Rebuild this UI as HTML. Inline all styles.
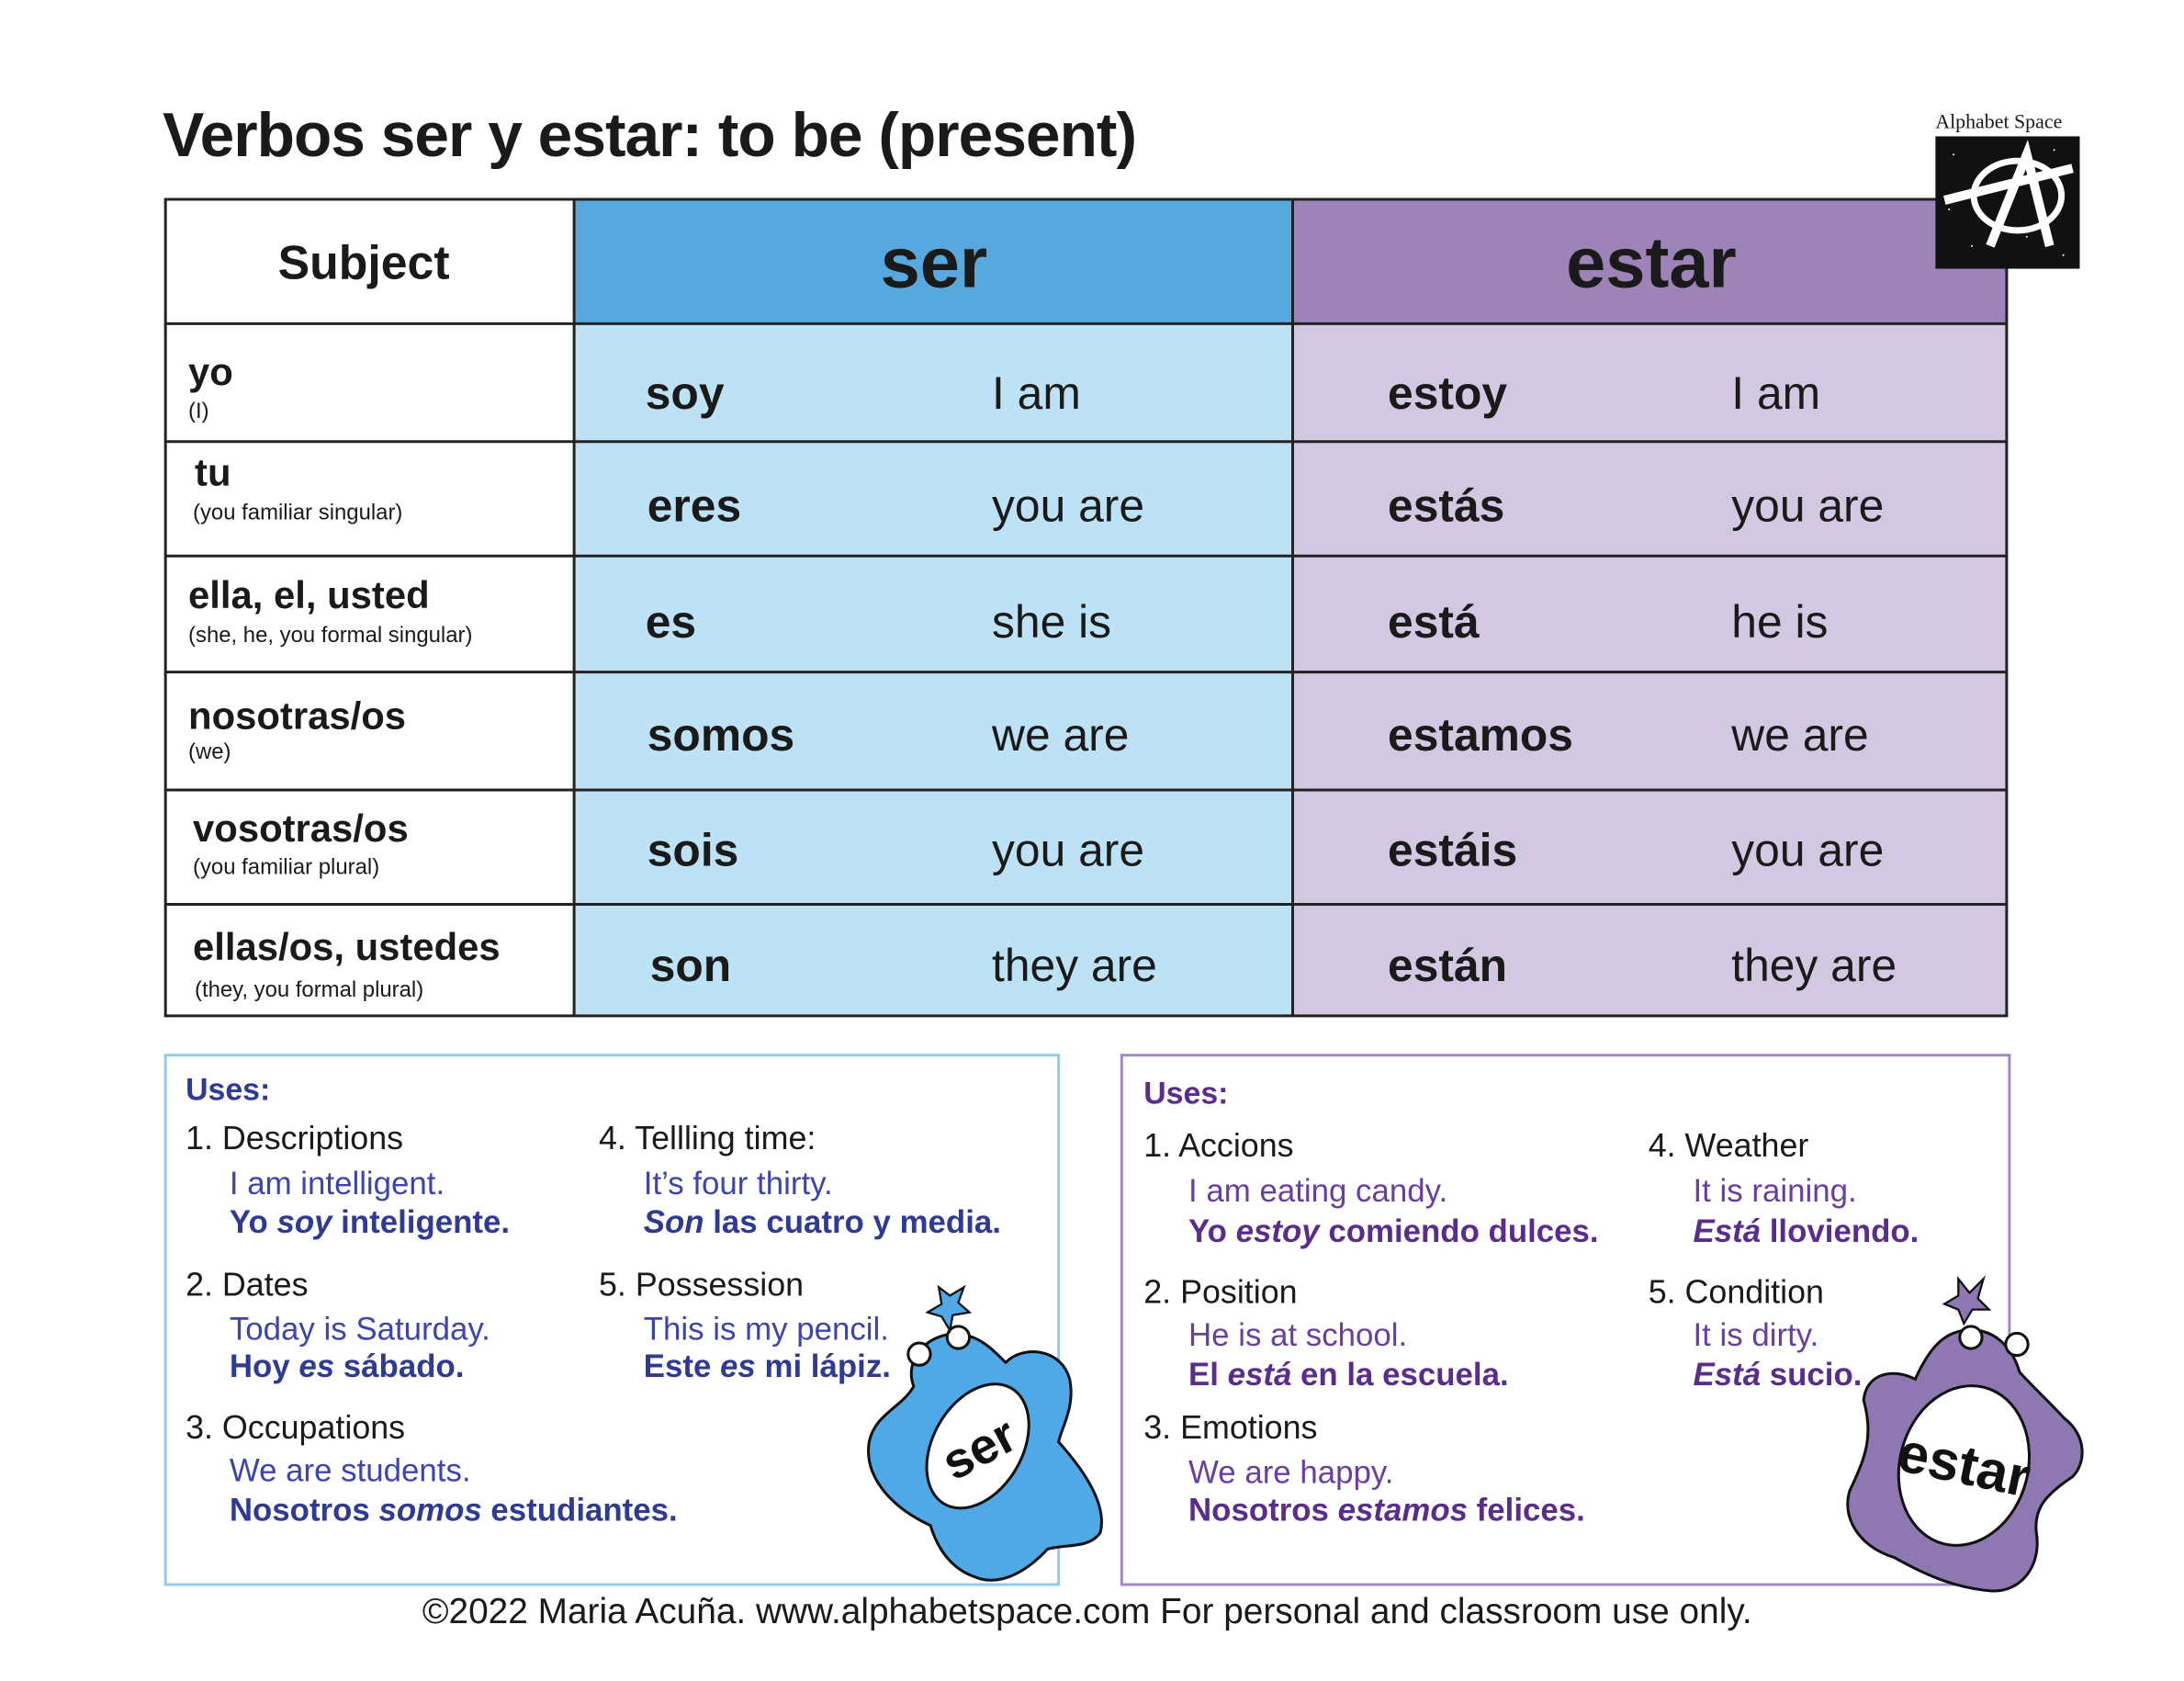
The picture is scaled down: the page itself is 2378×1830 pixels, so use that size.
<!DOCTYPE html>
<html><head><meta charset="utf-8"><style>
*{margin:0;padding:0;box-sizing:border-box}
body{width:2378px;height:1830px;background:#fff;position:relative;overflow:hidden;font-family:"Liberation Sans",sans-serif;color:#1a1a1a}
#c{position:absolute;left:0;top:0;width:2378px;height:1830px;transform:scale(0.9954);transform-origin:0 0}
.t{position:absolute;line-height:1;white-space:nowrap}
.b{font-weight:bold}
.bl{color:#2e3a94}.pu{color:#5a2d8c}
.bll{color:#3d44b0}.pul{color:#6a3da0}
</style></head><body>
<div id="c">
<div class="t b" style="left:178px;top:114px;font-size:68px;letter-spacing:-1px">Verbos ser y estar: to be (present)</div>
<div style="position:absolute;left:628px;top:218px;width:786px;height:136px;background:#56a8de"></div>
<div style="position:absolute;left:1414px;top:218px;width:781px;height:136px;background:#9e83b9"></div>
<div style="position:absolute;left:628px;top:354px;width:786px;height:757px;background:#bde2f5"></div>
<div style="position:absolute;left:1414px;top:354px;width:781px;height:757px;background:#d2c8e2"></div>
<svg style="position:absolute;left:0;top:0" width="2378" height="1830">
<g stroke="#222" stroke-width="3" fill="none">
<rect x="181" y="218" width="2014" height="893"/>
<line x1="628" y1="218" x2="628" y2="1111"/><line x1="1414" y1="218" x2="1414" y2="1111"/>
<line x1="181" y1="354" x2="2195" y2="354"/><line x1="181" y1="483" x2="2195" y2="483"/>
<line x1="181" y1="608" x2="2195" y2="608"/><line x1="181" y1="735" x2="2195" y2="735"/>
<line x1="181" y1="864" x2="2195" y2="864"/><line x1="181" y1="989" x2="2195" y2="989"/>
</g>
<rect x="181" y="1154" width="977" height="579" fill="none" stroke="#8ecdf0" stroke-width="3"/>
<rect x="1227" y="1154" width="971" height="579" fill="none" stroke="#a58ac2" stroke-width="3"/>
</svg>
<div class="t" style="left:2117px;top:122px;font-size:22px;font-family:'Liberation Serif',serif">Alphabet Space</div>
<svg style="position:absolute;left:2117px;top:149px" width="158" height="145" viewBox="0 0 158 145">
<rect width="158" height="145" fill="#111"/>
<g fill="#fff"><circle cx="20" cy="20" r="1"/><circle cx="130" cy="15" r="1"/><circle cx="40" cy="120" r="1"/><circle cx="140" cy="130" r="1"/><circle cx="100" cy="110" r="1"/><circle cx="15" cy="80" r="1"/></g>
<ellipse cx="90" cy="65" rx="48" ry="38" fill="none" stroke="#fff" stroke-width="7"/>
<path d="M10 70 L150 35 M60 120 L100 20 L125 120" fill="none" stroke="#fff" stroke-width="10"/>
</svg>
<div class="t b" style="left:304px;top:262px;font-size:52px">Subject</div>
<div class="t b" style="left:963px;top:248px;font-size:78px">ser</div>
<div class="t b" style="left:1713px;top:248px;font-size:78px">estar</div>

<div class="t b" style="left:206px;top:386px;font-size:42px">yo</div>
<div class="t" style="left:206px;top:438px;font-size:24px">(I)</div>
<div class="t b" style="left:213px;top:496px;font-size:42px">tu</div>
<div class="t" style="left:211px;top:549px;font-size:24px">(you familiar singular)</div>
<div class="t b" style="left:206px;top:630px;font-size:42px">ella, el, usted</div>
<div class="t" style="left:206px;top:683px;font-size:24px">(she, he, you formal singular)</div>
<div class="t b" style="left:206px;top:762px;font-size:42px">nosotras/os</div>
<div class="t" style="left:206px;top:811px;font-size:24px">(we)</div>
<div class="t b" style="left:211px;top:885px;font-size:42px">vosotras/os</div>
<div class="t" style="left:211px;top:937px;font-size:24px">(you familiar plural)</div>
<div class="t b" style="left:211px;top:1015px;font-size:42px">ellas/os, ustedes</div>
<div class="t" style="left:213px;top:1071px;font-size:24px">(they, you formal plural)</div>

<div class="t b" style="left:706px;top:405px;font-size:50px">soy</div><div class="t" style="left:1085px;top:405px;font-size:50px">I am</div>
<div class="t b" style="left:1518px;top:405px;font-size:50px">estoy</div><div class="t" style="left:1894px;top:405px;font-size:50px">I am</div>
<div class="t b" style="left:708px;top:528px;font-size:50px">eres</div><div class="t" style="left:1085px;top:528px;font-size:50px">you are</div>
<div class="t b" style="left:1518px;top:528px;font-size:50px">estás</div><div class="t" style="left:1894px;top:528px;font-size:50px">you are</div>
<div class="t b" style="left:706px;top:655px;font-size:50px">es</div><div class="t" style="left:1085px;top:655px;font-size:50px">she is</div>
<div class="t b" style="left:1518px;top:655px;font-size:50px">está</div><div class="t" style="left:1894px;top:655px;font-size:50px">he is</div>
<div class="t b" style="left:708px;top:779px;font-size:50px">somos</div><div class="t" style="left:1085px;top:779px;font-size:50px">we are</div>
<div class="t b" style="left:1518px;top:779px;font-size:50px">estamos</div><div class="t" style="left:1894px;top:779px;font-size:50px">we are</div>
<div class="t b" style="left:708px;top:905px;font-size:50px">sois</div><div class="t" style="left:1085px;top:905px;font-size:50px">you are</div>
<div class="t b" style="left:1518px;top:905px;font-size:50px">estáis</div><div class="t" style="left:1894px;top:905px;font-size:50px">you are</div>
<div class="t b" style="left:711px;top:1031px;font-size:50px">son</div><div class="t" style="left:1085px;top:1031px;font-size:50px">they are</div>
<div class="t b" style="left:1518px;top:1031px;font-size:50px">están</div><div class="t" style="left:1894px;top:1031px;font-size:50px">they are</div>

<div class="t b bl" style="left:203px;top:1175px;font-size:34px">Uses:</div>
<div class="t" style="left:203px;top:1227px;font-size:36px">1. Descriptions</div>
<div class="t bll" style="left:251px;top:1277px;font-size:35px">I am intelligent.</div>
<div class="t b bl" style="left:251px;top:1319px;font-size:35px">Yo <i>soy</i> inteligente.</div>
<div class="t" style="left:203px;top:1387px;font-size:36px">2. Dates</div>
<div class="t bll" style="left:251px;top:1436px;font-size:35px">Today is Saturday.</div>
<div class="t b bl" style="left:251px;top:1477px;font-size:35px">Hoy <i>es</i> sábado.</div>
<div class="t" style="left:203px;top:1543px;font-size:36px">3. Occupations</div>
<div class="t bll" style="left:251px;top:1591px;font-size:35px">We are students.</div>
<div class="t b bl" style="left:251px;top:1634px;font-size:35px">Nosotros <i>somos</i> estudiantes.</div>
<div class="t" style="left:655px;top:1227px;font-size:36px">4. Tellling time:</div>
<div class="t bll" style="left:704px;top:1277px;font-size:35px">It’s four thirty.</div>
<div class="t b bl" style="left:704px;top:1319px;font-size:35px"><i>Son</i> las cuatro y media.</div>
<div class="t" style="left:655px;top:1387px;font-size:36px">5. Possession</div>
<div class="t bll" style="left:704px;top:1436px;font-size:35px">This is my pencil.</div>
<div class="t b bl" style="left:704px;top:1477px;font-size:35px">Este <i>es</i> mi lápiz.</div>

<div class="t b pu" style="left:1251px;top:1179px;font-size:34px">Uses:</div>
<div class="t" style="left:1251px;top:1235px;font-size:36px">1. Accions</div>
<div class="t pul" style="left:1300px;top:1285px;font-size:35px">I am eating candy.</div>
<div class="t b pu" style="left:1300px;top:1329px;font-size:35px">Yo <i>estoy</i> comiendo dulces.</div>
<div class="t" style="left:1251px;top:1395px;font-size:36px">2. Position</div>
<div class="t pul" style="left:1300px;top:1443px;font-size:35px">He is at school.</div>
<div class="t b pu" style="left:1300px;top:1486px;font-size:35px">El <i>está</i> en la escuela.</div>
<div class="t" style="left:1251px;top:1543px;font-size:36px">3. Emotions</div>
<div class="t pul" style="left:1300px;top:1593px;font-size:35px">We are happy.</div>
<div class="t b pu" style="left:1300px;top:1634px;font-size:35px">Nosotros <i>estamos</i> felices.</div>
<div class="t" style="left:1803px;top:1235px;font-size:36px">4. Weather</div>
<div class="t pul" style="left:1852px;top:1285px;font-size:35px">It is raining.</div>
<div class="t b pu" style="left:1852px;top:1329px;font-size:35px"><i>Está</i> lloviendo.</div>
<div class="t" style="left:1803px;top:1395px;font-size:36px">5. Condition</div>
<div class="t pul" style="left:1852px;top:1443px;font-size:35px">It is dirty.</div>
<div class="t b pu" style="left:1852px;top:1486px;font-size:35px"><i>Está</i> sucio.</div>
<div class="t" style="left:462px;top:1743px;font-size:39px">©2022 Maria Acuña. www.alphabetspace.com For personal and classroom use only.</div>
</div>
<svg style="position:absolute;left:0;top:0" width="2378" height="1830" viewBox="0 0 1568 1206.6">
<g stroke="#111" stroke-width="2">
<path d="M680 958 C700 955 712 968 722 978 C735 965 762 968 768 990 C772 1010 762 1025 760 1035 C778 1055 795 1080 790 1100 C782 1112 765 1108 752 1112 C740 1125 720 1140 700 1132 C680 1125 672 1108 668 1095 C640 1082 620 1060 624 1035 C628 1015 648 1010 656 995 C650 980 660 962 680 958 Z" fill="#4fa9e6"/>
<ellipse cx="702" cy="1038" rx="32" ry="48" transform="rotate(30 702 1038)" fill="#fff"/>
<circle cx="660" cy="972" r="8" fill="#fff"/><circle cx="688" cy="960" r="8" fill="#fff"/>
<path d="M688 935 L696 942 L684 944 L682 955 L676 945 L666 942 L676 936 L674 924 L682 930 L692 924 Z" fill="#4fa9e6" stroke-width="1.5"/>
<path d="M1410 955 C1432 952 1445 968 1450 985 C1462 998 1470 1005 1482 1018 C1498 1030 1498 1050 1488 1060 C1470 1072 1460 1082 1462 1100 C1466 1125 1450 1143 1430 1142 C1405 1140 1385 1132 1360 1118 C1335 1110 1322 1090 1328 1070 C1340 1045 1345 1030 1338 1005 C1340 985 1360 982 1375 990 C1385 968 1395 957 1410 955 Z" fill="#8f77b2"/>
<ellipse cx="1410" cy="1052" rx="46" ry="58" transform="rotate(15 1410 1052)" fill="#fff"/>
<circle cx="1415" cy="960" r="8" fill="#fff"/><circle cx="1448" cy="965" r="8" fill="#fff"/>
<path d="M1414 928 L1424 918 L1420 932 L1428 940 L1416 940 L1410 950 L1406 940 L1396 936 L1406 930 L1406 918 Z" fill="#8f77b2" stroke-width="1.5"/>
</g>
<text x="703" y="1052" font-family="Liberation Sans" font-weight="bold" font-size="36" transform="rotate(-28 703 1040)" text-anchor="middle" fill="#111">ser</text>
<text x="1410" y="1065" font-family="Liberation Sans" font-weight="bold" font-size="40" transform="rotate(12 1410 1052)" text-anchor="middle" fill="#111">estar</text>
</svg>
</body></html>
